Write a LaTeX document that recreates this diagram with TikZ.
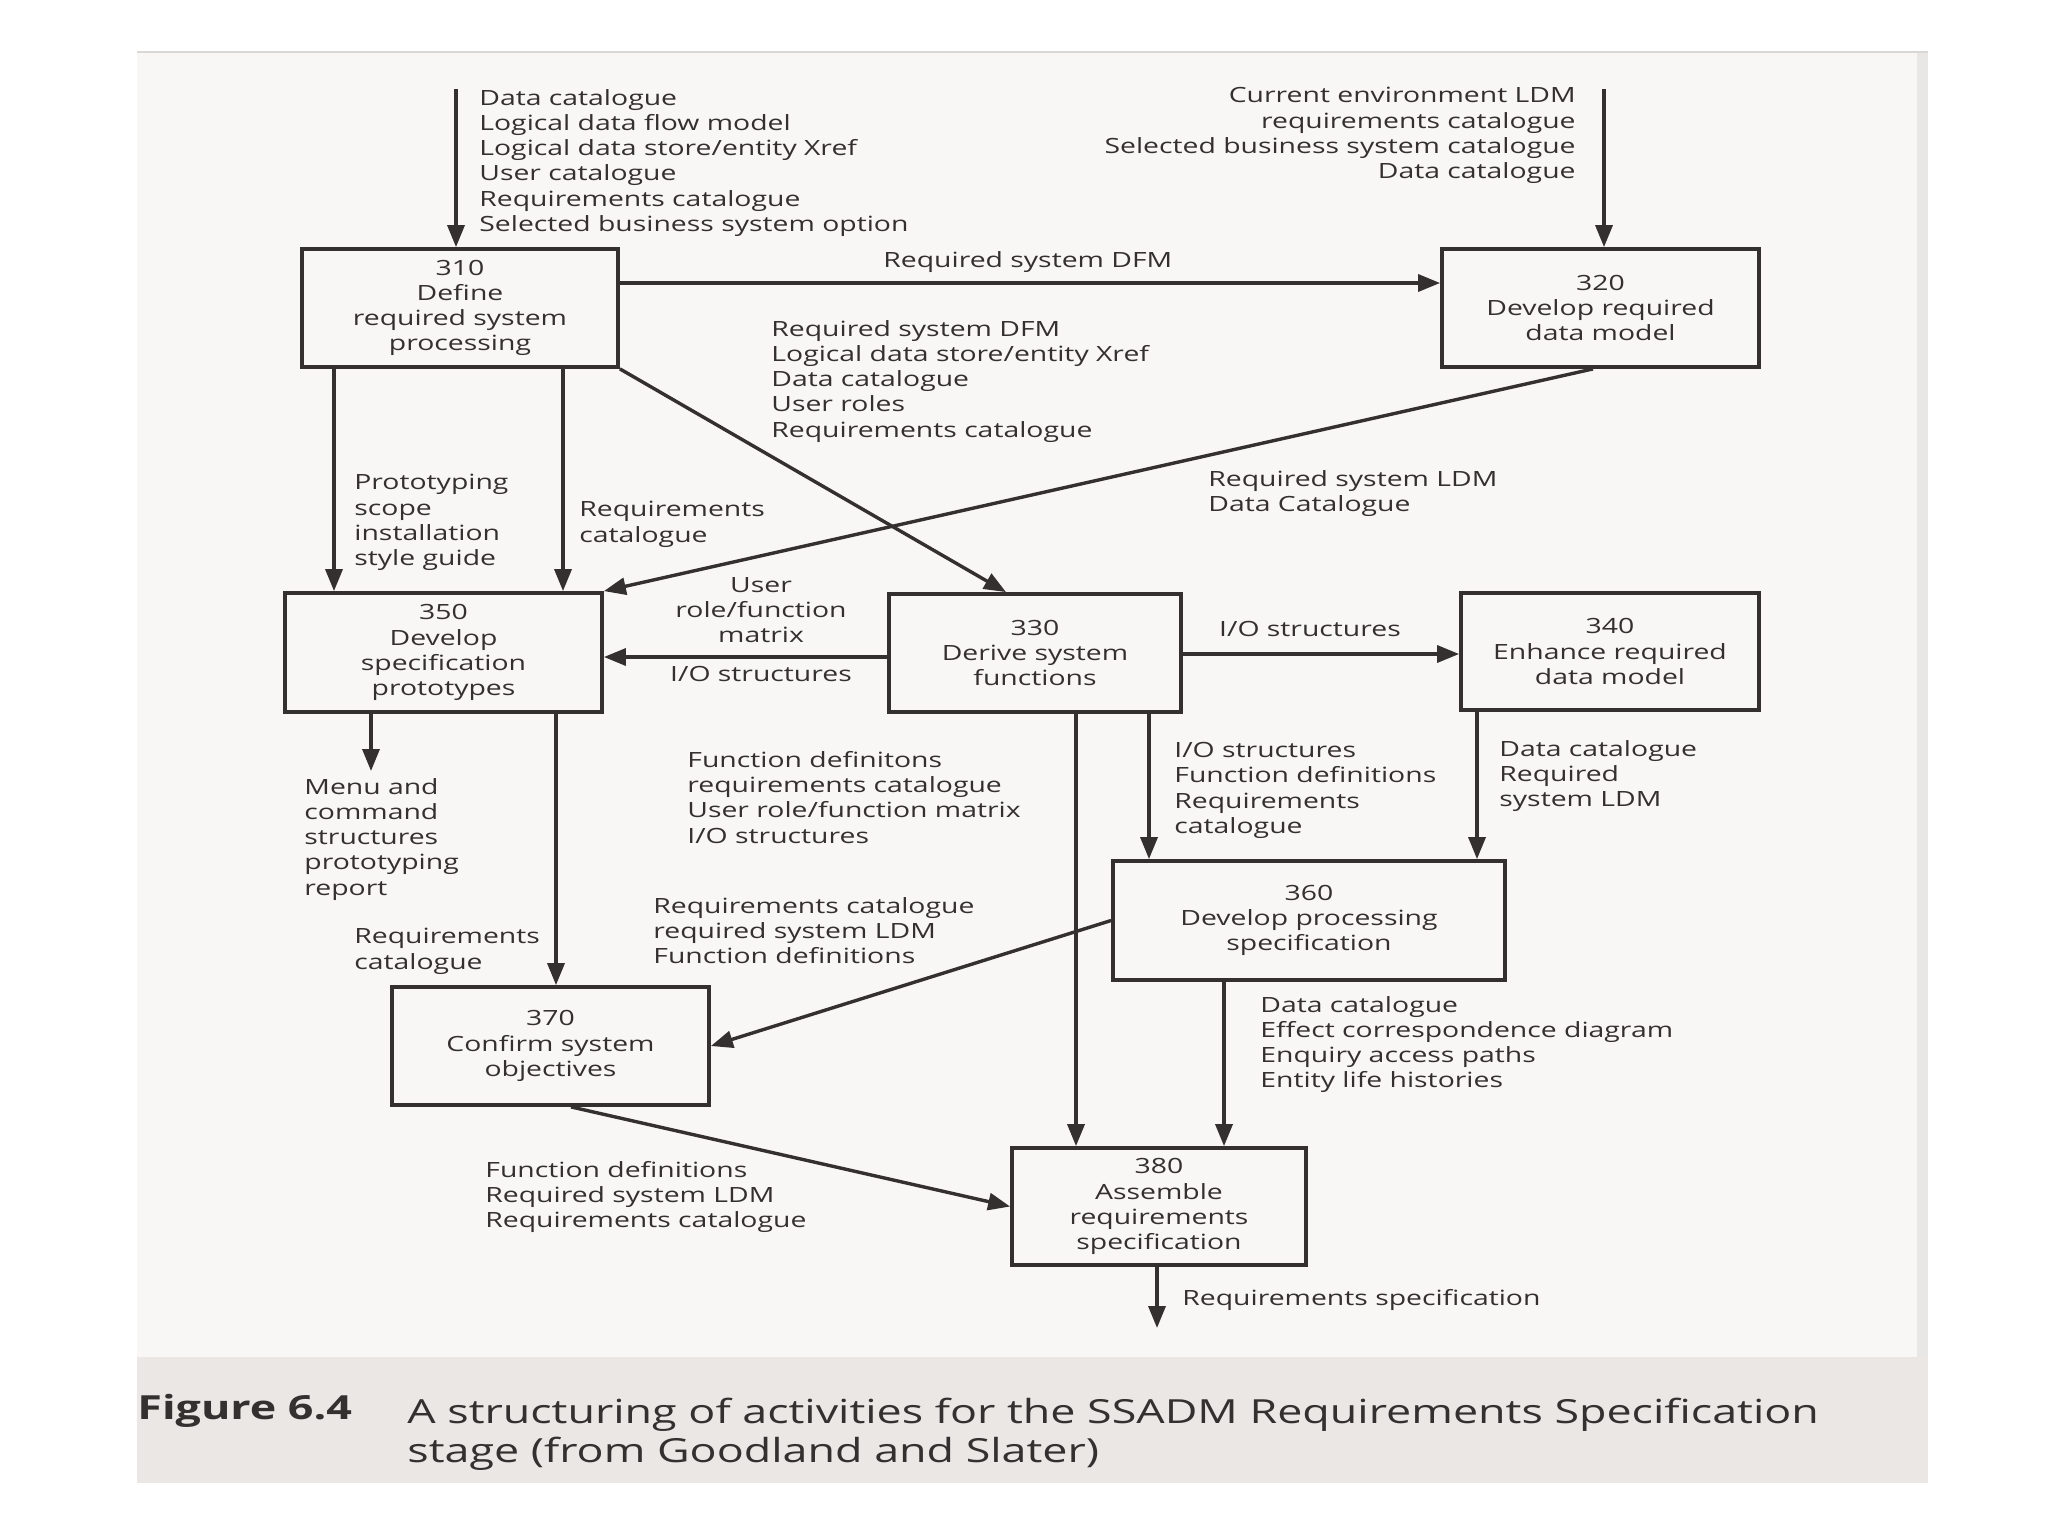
\documentclass[tikz,border=0pt]{standalone}
\usepackage{fontspec}
\setmainfont[FakeStretch=1.35]{Open Sans}
\usetikzlibrary{arrows.meta}
\definecolor{ink}{HTML}{33302F}
\definecolor{pagebg}{HTML}{F8F7F6}
\definecolor{capbg}{HTML}{EAE7E4}
\definecolor{edge}{HTML}{DAD7D4}
\begin{document}
\begin{tikzpicture}[x=0.5pt,y=-0.5pt,
  every node/.style={text=ink, font=\fontsize{10.5}{12.6}\selectfont},
  box/.style={draw=ink, line width=1.9pt, align=center, inner sep=0pt},
  lbl/.style={align=left, inner sep=0pt, anchor=north west},
  arr/.style={draw=ink, line width=1.7pt, -{Triangle[length=11pt,width=8.5pt]}}]
\useasboundingbox (0,0) rectangle (2048,1536);
\fill[white] (0,0) rectangle (2048,1536);
\fill[pagebg] (137,52) rectangle (1928,1483);
\fill[capbg] (137,1357) rectangle (1928,1483);
\fill[edge!60] (1917,52) rectangle (1928,1357);
\draw[edge, line width=1pt] (137,52) -- (1928,52);

% boxes
\node[box, minimum width=158pt, minimum height=59pt] (n310) at (460,308) {310\\Define\\required system\\processing};
\node[box, minimum width=158.5pt, minimum height=59pt] (n320) at (1600.5,308) {320\\Develop required\\data model};
\node[box, minimum width=158.5pt, minimum height=59.5pt] (n350) at (443.5,652.5) {350\\Develop\\specification\\prototypes};
\node[box, minimum width=146pt, minimum height=59pt] (n330) at (1035,653) {330\\Derive system\\functions};
\node[box, minimum width=149pt, minimum height=58.5pt] (n340) at (1610,651.5) {340\\Enhance required\\data model};
\node[box, minimum width=196pt, minimum height=59.5pt] (n360) at (1309,920.5) {360\\Develop processing\\specification};
\node[box, minimum width=158.5pt, minimum height=59pt] (n370) at (550.5,1046) {370\\Confirm system\\objectives};
\node[box, minimum width=147pt, minimum height=58.5pt] (n380) at (1159,1206.5) {380\\Assemble\\requirements\\specification};

% helper coordinates
\coordinate (in310) at (456,89);
\coordinate (in320) at (1604,89);
\coordinate (h1) at (0,283);
\coordinate (h2) at (0,657);
\coordinate (h3) at (0,654);
\coordinate (v1) at (334,0);
\coordinate (v2) at (563,0);
\coordinate (v3) at (1006,0);
\coordinate (v4) at (1593,0);
\coordinate (v6) at (556,0);
\coordinate (v7) at (1076,0);
\coordinate (v8) at (1149,0);
\coordinate (v9) at (1477,0);
\coordinate (v10) at (1224,0);
\coordinate (v11) at (571,0);
\coordinate (out350) at (371,771);
\coordinate (out380) at (1157,1328);

% connectors
\draw[arr] (in310) -- (in310 |- n310.north);
\draw[arr] (in320) -- (in320 |- n320.north);
\draw[arr] (n310.east |- h1) -- (n320.west |- h1);
\draw[arr] (v1 |- n310.south) -- (v1 |- n350.north);
\draw[arr] (v2 |- n310.south) -- (v2 |- n350.north);
\draw[arr] (n310.south east) -- (n330.north -| v3);
\draw[arr] (v4 |- n320.south) -- (n350.north east);
\draw[arr] (n330.west |- h2) -- (n350.east |- h2);
\draw[arr] (n330.east |- h3) -- (n340.west |- h3);
\draw[arr] (out350 |- n350.south) -- (out350);
\draw[arr] (v6 |- n350.south) -- (v6 |- n370.north);
\draw[arr] (v7 |- n330.south) -- (v7 |- n380.north);
\draw[arr] (v8 |- n330.south) -- (v8 |- n360.north);
\draw[arr] (v9 |- n340.south) -- (v9 |- n360.north);
\draw[arr] (n360.west) -- (n370.east);
\draw[arr] (v10 |- n360.south) -- (v10 |- n380.north);
\draw[arr] (v11 |- n370.south) -- (n380.west);
\draw[arr] (out380 |- n380.south) -- (out380);

% labels
\node[lbl] (l1) at (479,89) {Data catalogue\\Logical data flow model\\Logical data store/entity Xref\\User catalogue\\Requirements catalogue\\Selected business system option};
\node[inner sep=0pt, anchor=north east, align=right] (l2) at (1576,87) {Current environment LDM\\requirements catalogue\\Selected business system catalogue\\Data catalogue};
\node[lbl] (l3) at (883,251) {Required system DFM};
\node[lbl] (l4) at (771,320) {Required system DFM\\Logical data store/entity Xref\\Data catalogue\\User roles\\Requirements catalogue};
\node[lbl] (l5) at (354,474) {Prototyping\\scope\\installation\\style guide};
\node[lbl] (l6) at (579,501) {Requirements\\catalogue};
\node[lbl] (l7) at (1208,470) {Required system LDM\\Data Catalogue};
\node[inner sep=0pt, anchor=north, align=center] (l8) at (761,577) {User\\role/function\\matrix};
\node[inner sep=0pt] (l9) at (761,674) {I/O structures};
\node[inner sep=0pt] (l10) at (1310,629) {I/O structures};
\node[lbl] (l11) at (304,778) {Menu and\\command\\structures\\prototyping\\report};
\node[lbl] (l12) at (687,751) {Function definitons\\requirements catalogue\\User role/function matrix\\I/O structures};
\node[lbl] (l13) at (1174,742) {I/O structures\\Function definitions\\Requirements\\catalogue};
\node[lbl] (l14) at (1499,740) {Data catalogue\\Required\\system LDM};
\node[lbl] (l15) at (354,928) {Requirements\\catalogue};
\node[lbl] (l16) at (653,897) {Requirements catalogue\\required system LDM\\Function definitions};
\node[lbl] (l17) at (1260,996) {Data catalogue\\Effect correspondence diagram\\Enquiry access paths\\Entity life histories};
\node[lbl] (l18) at (485,1161) {Function definitions\\Required system LDM\\Requirements catalogue};
\node[inner sep=0pt, anchor=west] (l19) at (1182,1300) {Requirements specification};

% caption
\node[inner sep=0pt, anchor=west, font=\fontsize{16.6}{19.5}\selectfont\bfseries] (cap1) at (137,1411) {Figure 6.4};
\node[inner sep=0pt, anchor=north west, align=left, font=\fontsize{16.6}{19.5}\selectfont] (cap2) at (407,1398) {A structuring of activities for the SSADM Requirements Specification\\stage (from Goodland and Slater)};
\end{tikzpicture}
\end{document}
